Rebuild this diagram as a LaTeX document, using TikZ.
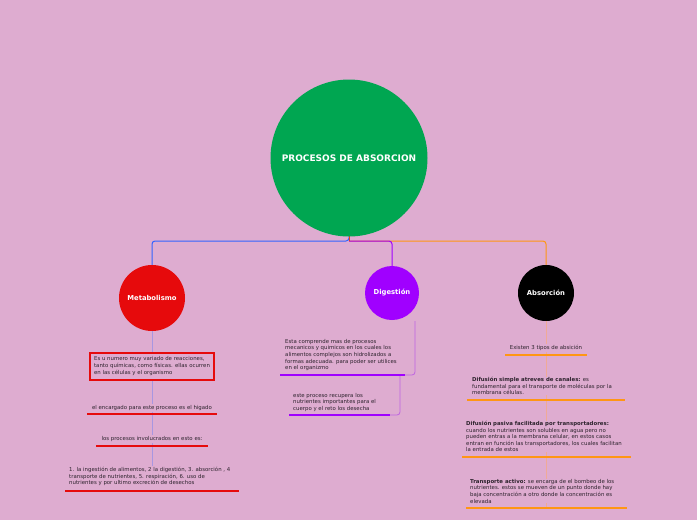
\documentclass[tikz,border=0pt]{standalone}
\usepackage{fontspec}
\setmainfont{DejaVu Sans}
\begin{document}
\begin{tikzpicture}[x=1pt,y=-1pt,
  bigc/.style={circle,inner sep=0,text=white,font=\bfseries},
  small/.style={inner sep=0,text=txt,font=\fontsize{5.4}{6.6}\selectfont,align=left},
  con/.style={line width=1pt,rounded corners=3pt},
  ul/.style={line width=2.2pt}]
\definecolor{bg}{RGB}{222,172,208}
\definecolor{txt}{RGB}{45,35,45}
\definecolor{gr}{RGB}{0,166,81}
\definecolor{rd}{RGB}{230,10,12}
\definecolor{pu}{RGB}{160,0,255}
\definecolor{bl}{RGB}{50,100,255}
\definecolor{og}{RGB}{255,150,20}
\definecolor{lav}{RGB}{168,150,225}
\definecolor{lpu}{RGB}{190,100,225}
\definecolor{lor}{RGB}{240,170,150}
\fill[bg] (0,0) rectangle (697,520);
\useasboundingbox (0,0) rectangle (697,520);
% connectors
\draw[con,bl] (349,236) -- (349,241) -- (152,241) -- (152,266);
\draw[con,og] (349,241) -- (546,241) -- (546,266);
\draw[con,pu] (349,241) -- (392,241) -- (392,267);
\draw[con,rd!60!og] (349,236) -- (349,241);
% main nodes
\node[bigc,fill=gr,minimum size=157,font=\bfseries\fontsize{9}{10}\selectfont] (main) at (349,158) {PROCESOS DE ABSORCION};
\node[bigc,fill=rd,minimum size=66,font=\bfseries\fontsize{6.8}{8}\selectfont] (met) at (152,298) {Metabolismo};
\node[bigc,fill=pu,minimum size=54,font=\bfseries\fontsize{6.8}{8}\selectfont] (dig) at (392,293) {Digestión};
\node[bigc,fill=black,minimum size=56,font=\bfseries\fontsize{6.8}{8}\selectfont] (abs) at (546,293) {Absorción};
% metabolismo branch
\draw[lav,line width=1pt] (met.south) -- (152,466);
\node[small,draw=rd,line width=2pt,fill=bg,minimum width=123,minimum height=27,inner sep=4pt] (m1) at (152,366) {Es u numero muy variado de reacciones,\\ tanto químicas, como físicas. ellas ocurren\\ en las células y el organismo};
\node[small,fill=bg,inner sep=1pt] (m2) at (152,408) {el encargado para este proceso es el higado};
\draw[ul,rd] (87,414) -- (217,414);
\node[small,fill=bg,inner sep=1pt] (m3) at (152,439) {los procesos involucrados en esto es:};
\draw[ul,rd] (96,446) -- (208,446);
\node[small,anchor=north west] (m4) at (69,467) {1. la ingestión de alimentos, 2 la digestión, 3. absorción , 4\\ transporte de nutrientes, 5. respiración, 6. uso de\\ nutrientes y por ultimo excreción de desechos};
\draw[ul,rd] (65,491) -- (239,491);
% digestion branch
\draw[lpu,line width=0.8pt,rounded corners=3pt] (415,321) -- (415,375) -- (400,375);
\draw[lpu,line width=0.8pt,rounded corners=3pt] (400,375) -- (400,415) -- (385,415);
\node[small,anchor=north west] (d1) at (285,339) {Esta comprende mas de procesos\\ mecanicos y quimicos en los cuales los\\ alimentos complejos son hidrolizados a\\ formas adecuada. para poder ser utilices\\ en el organizmo};
\draw[ul,pu] (280,375) -- (405,375);
\node[small,anchor=north west] (d2) at (293,393) {este proceso recupera los\\ nutrientes importantes para el\\ cuerpo y el reto los desecha};
\draw[ul,pu] (289,415) -- (390,415);
% absorcion branch
\draw[lor,line width=0.8pt] (abs.south) -- (546,508);
\node[small,fill=bg,inner sep=1pt] (a1) at (546,348) {Existen 3 tipos de absición};
\draw[ul,og] (505,355) -- (587,355);
\node[small,fill=bg,anchor=north west] (a2) at (472,377) {\textbf{Difusión simple atreves de canales:} es\\ fundamental para el transporte de moléculas por la\\ membrana células.};
\draw[ul,og] (467,400) -- (625,400);
\node[small,fill=bg,anchor=north west] (a3) at (466,421) {\textbf{Difusión pasiva facilitada por transportadores:}\\ cuando los nutrientes son solubles en agua pero no\\ pueden entras a la membrana celular, en estos casos\\ entran en función las transportadores, los cuales facilitan\\ la entrada de estos};
\draw[ul,og] (462,457) -- (631,457);
\node[small,fill=bg,anchor=north west] (a4) at (470,479) {\textbf{Transporte activo:} se encarga de el bombeo de los\\ nutrientes. estos se mueven de un punto donde hay\\ baja concentración a otro donde la concentración es\\ elevada};
\draw[ul,og] (466,508) -- (627,508);
\end{tikzpicture}
\end{document}
